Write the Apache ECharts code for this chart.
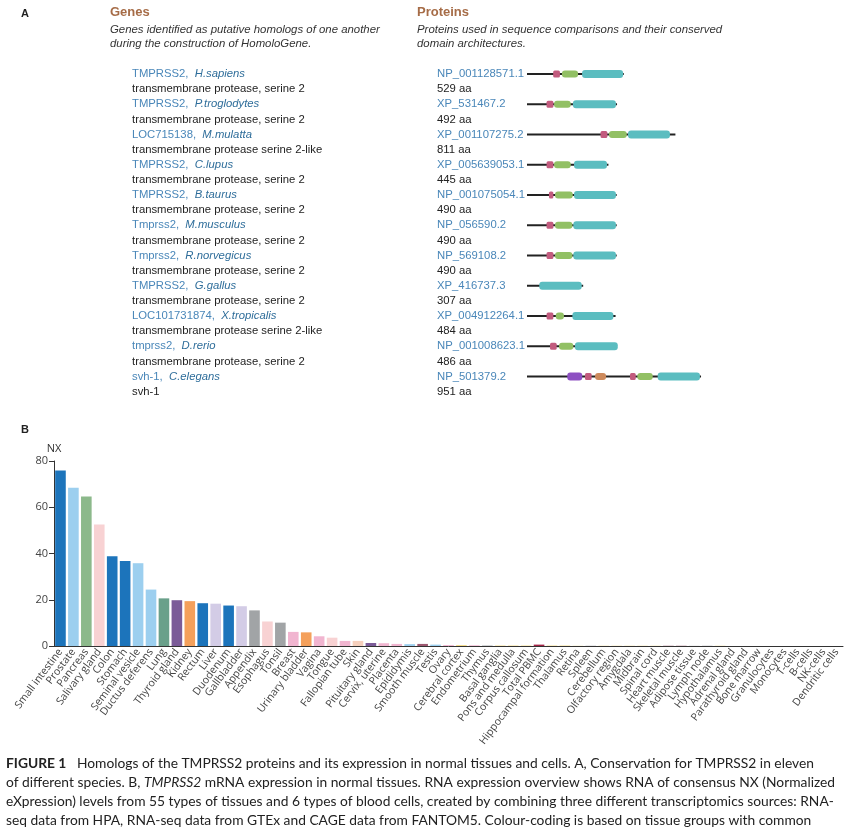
<!DOCTYPE html>
<html>
<head>
<meta charset="utf-8">
<script src="https://cdn.jsdelivr.net/npm/echarts@6/dist/echarts.min.js"></script>
<style>
  html, body { margin: 0; padding: 0; background: #fff; }
  #main { width: 849px; height: 828px; }
</style>
</head>
<body>
<div id="main"></div>
<script>
// ---- panel A: homologs ----
const geneSymbols = ['TMPRSS2', 'TMPRSS2', 'LOC715138', 'TMPRSS2', 'TMPRSS2', 'Tmprss2', 'Tmprss2', 'TMPRSS2', 'LOC101731874', 'tmprss2', 'svh-1'];
const geneSpecies = ['H.sapiens', 'P.troglodytes', 'M.mulatta', 'C.lupus', 'B.taurus', 'M.musculus', 'R.norvegicus', 'G.gallus', 'X.tropicalis', 'D.rerio', 'C.elegans'];
const geneDescriptions = [
  'transmembrane protease, serine 2', 'transmembrane protease, serine 2', 'transmembrane protease serine 2-like',
  'transmembrane protease, serine 2', 'transmembrane protease, serine 2', 'transmembrane protease, serine 2',
  'transmembrane protease, serine 2', 'transmembrane protease, serine 2', 'transmembrane protease serine 2-like',
  'transmembrane protease, serine 2', 'svh-1'
];
const proteinIds = ['NP_001128571.1', 'XP_531467.2', 'XP_001107275.2', 'XP_005639053.1', 'NP_001075054.1', 'NP_056590.2', 'NP_569108.2', 'XP_416737.3', 'XP_004912264.1', 'NP_001008623.1', 'NP_501379.2'];
const proteinLengths = [529, 492, 811, 445, 490, 490, 490, 307, 484, 486, 951];
// [domain, start aa, end aa]
const proteinDomains = [
  [['LDLa', 143, 180], ['SRCR', 191, 279], ['Trypsin', 301, 525]],
  [['LDLa', 107, 144], ['SRCR', 148, 239], ['Trypsin', 251, 486]],
  [['LDLa', 402, 439], ['SRCR', 448, 545], ['Trypsin', 552, 781]],
  [['LDLa', 107, 144], ['SRCR', 148, 239], ['Trypsin', 257, 437]],
  [['LDLa', 120, 144], ['SRCR', 153, 250], ['Trypsin', 257, 486]],
  [['LDLa', 107, 144], ['SRCR', 153, 248], ['Trypsin', 253, 486]],
  [['LDLa', 107, 144], ['SRCR', 153, 248], ['Trypsin', 253, 486]],
  [['Trypsin', 67, 299]],
  [['LDLa', 107, 144], ['SRCR', 157, 202], ['Trypsin', 248, 472]],
  [['LDLa', 126, 162], ['SRCR', 175, 253], ['Trypsin', 262, 496]],
  [['CUB', 220, 302], ['LDLa', 317, 353], ['SEA', 372, 432], ['LDLa', 563, 594], ['SRCR', 603, 687], ['Trypsin', 714, 945]]
];

// ---- panel B: RNA expression ----
const tissues = ['Small intestine', 'Prostate', 'Pancreas', 'Salivary gland', 'Colon', 'Stomach', 'Seminal vesicle', 'Ductus deferens', 'Lung', 'Thyroid gland',
  'Kidney', 'Rectum', 'Liver', 'Duodenum', 'Gallbladder', 'Appendix', 'Esophagus', 'Tonsil', 'Breast', 'Urinary bladder',
  'Vagina', 'Tongue', 'Fallopian tube', 'Skin', 'Pituitary gland', 'Cervix, uterine', 'Placenta', 'Epididymis', 'Smooth muscle', 'Testis',
  'Ovary', 'Cerebral cortex', 'Endometrium', 'Thymus', 'Basal ganglia', 'Pons and medulla', 'Corpus callosum', 'Total PBMC', 'Hippocampal formation', 'Thalamus',
  'Retina', 'Spleen', 'Cerebellum', 'Olfactory region', 'Amygdala', 'Midbrain', 'Spinal cord', 'Heart muscle', 'Skeletal muscle', 'Adipose tissue',
  'Lymph node', 'Hypothalamus', 'Adrenal gland', 'Parathyroid gland', 'Bone marrow', 'Granulocytes', 'Monocytes', 'T-cells', 'B-cells', 'NK-cells', 'Dendritic cells'];
const nxValues = [75.9, 68.4, 64.7, 52.5, 38.8, 36.8, 35.8, 24.4, 20.6, 19.8,
  19.4, 18.5, 18.3, 17.5, 17.2, 15.4, 10.6, 10.1, 6.1, 5.9,
  4.2, 3.6, 2.2, 2.2, 1.3, 1.2, 0.9, 0.8, 0.9, 0.6,
  0.4, 0.4, 0.3, 0.2, 0.2, 0.2, 0.2, 0.6, 0.2, 0.2,
  0.1, 0.1, 0.1, 0.1, 0.1, 0.1, 0.1, 0.1, 0.1, 0.1,
  0.1, 0.1, 0, 0, 0, 0, 0, 0, 0, 0, 0];
const tissueGroups = ['gi', 'male', 'pancreas', 'oral', 'gi', 'gi', 'male', 'male', 'lung', 'endocrine',
  'kidney', 'gi', 'liver', 'gi', 'liver', 'lymphoid', 'oral', 'lymphoid', 'female', 'kidney',
  'female', 'oral', 'female', 'skin', 'endocrine', 'female', 'female', 'male', 'muscle', 'male',
  'female', 'brain', 'female', 'lymphoid', 'brain', 'brain', 'brain', 'blood', 'brain', 'brain',
  'eye', 'lymphoid', 'brain', 'brain', 'brain', 'brain', 'brain', 'muscle', 'muscle', 'adipose',
  'lymphoid', 'brain', 'endocrine', 'endocrine', 'lymphoid', 'blood', 'blood', 'blood', 'blood', 'blood', 'blood'];
const yTicks = [0, 20, 40, 60, 80];

const captionLines = [
  '{b|FIGURE 1}   Homologs of the TMPRSS2 proteins and its expression in normal tissues and cells. A, Conservation for TMPRSS2 in eleven',
  'of different species. B, {i|TMPRSS2} mRNA expression in normal tissues. RNA expression overview shows RNA of consensus NX (Normalized',
  'eXpression) levels from 55 types of tissues and 6 types of blood cells, created by combining three different transcriptomics sources: RNA-',
  'seq data from HPA, RNA-seq data from GTEx and CAGE data from FANTOM5. Colour-coding is based on tissue groups with common'
];

// styles
const groupColors = {
  gi: '#1c74bb', male: '#9ccfef', pancreas: '#8cb98b', oral: '#f8d2d3', lung: '#69a08a',
  endocrine: '#7b5b98', kidney: '#f4a05b', liver: '#d3cce6', lymphoid: '#a1a4a6', female: '#f1b5d0',
  skin: '#f6d0bd', muscle: '#9d5870', brain: '#f6dc86', blood: '#a42446', eye: '#f2e2a0', adipose: '#c9c9c9'
};
const domainColors = { LDLa: '#c25b7e', SRCR: '#92c064', Trypsin: '#5bbdc0', CUB: '#8d50c2', SEA: '#cd8a5c' };
const domainHeights = { LDLa: 7, SRCR: 7, Trypsin: 8, CUB: 8, SEA: 7 };
const domainKinds = Object.keys(domainColors);

const sansA = '"Liberation Sans", Arial, sans-serif';
const rowTop = 74, lineStep = 15.13;
const geneX = 132, protX = 437;
const listSize = 11.3;

const graphics = [];
function txt(x, y, text, extra) {
  graphics.push({ type: 'text', x: x, y: y, silent: true,
    style: Object.assign({ text: text, fontFamily: sansA, fontSize: listSize, fill: '#222', verticalAlign: 'middle' }, extra || {}) });
}
txt(21, 14, 'A', { fontWeight: 'bold', fontSize: 11 });
txt(110, 12, 'Genes', { fontWeight: 'bold', fontSize: 13, fill: '#a66c47' });
txt(110, 29.5, 'Genes identified as putative homologs of one another', { fontStyle: 'italic', fontSize: 11.4, fill: '#333' });
txt(110, 44, 'during the construction of HomoloGene.', { fontStyle: 'italic', fontSize: 11.4, fill: '#333' });
txt(417, 12, 'Proteins', { fontWeight: 'bold', fontSize: 13, fill: '#a66c47' });
txt(417, 29.5, 'Proteins used in sequence comparisons and their conserved', { fontStyle: 'italic', fontSize: 11.4, fill: '#333' });
txt(417, 44, 'domain architectures.', { fontStyle: 'italic', fontSize: 11.4, fill: '#333' });

geneSymbols.forEach(function (g, i) {
  const y1 = rowTop + lineStep * 2 * i, y2 = y1 + lineStep;
  txt(geneX, y1, '{n|' + g + ',}  {s|' + geneSpecies[i] + '}', {
    rich: {
      n: { fontFamily: sansA, fontSize: listSize, fill: '#4a87b9' },
      s: { fontFamily: sansA, fontSize: listSize, fill: '#2e6d9a', fontStyle: 'italic' }
    }
  });
  txt(geneX, y2, geneDescriptions[i]);
  txt(protX, y1, proteinIds[i], { fill: '#4a87b9' });
  txt(protX, y2, proteinLengths[i] + ' aa');
});

txt(21, 430, 'B', { fontWeight: 'bold', fontSize: 11 });

const capFont = 'Lato, "Open Sans", sans-serif';
const capSize = 13.8;
captionLines.forEach(function (l, i) {
  txt(6, 764 + 19 * i, l, {
    fontFamily: capFont, fontSize: capSize, fill: '#222',
    rich: {
      b: { fontFamily: capFont, fontSize: capSize, fontWeight: 'bold', fill: '#222' },
      i: { fontFamily: capFont, fontSize: capSize, fontStyle: 'italic', fill: '#222' }
    }
  });
});

const backboneData = proteinLengths.map(function (len, i) { return [i, len]; });
const domainData = [];
proteinDomains.forEach(function (doms, i) {
  doms.forEach(function (d) { domainData.push([i, d[1], d[2], domainKinds.indexOf(d[0])]); });
});

const chart = echarts.init(document.getElementById('main'));
const option = {
  backgroundColor: '#fff',
  animation: false,
  graphic: graphics,
  grid: [
    { left: 54, right: 6, top: 461, height: 185 },
    { left: 527, width: 183, top: rowTop - lineStep, height: lineStep * 2 * 11 }
  ],
  xAxis: [
    {
      type: 'category', gridIndex: 0, data: tissues,
      axisLine: { lineStyle: { color: '#333', width: 1 } },
      axisTick: { alignWithLabel: true, length: 5, lineStyle: { color: '#333' } },
      axisLabel: { interval: 0, rotate: 53, fontSize: 10.5, color: '#444', margin: 4, fontFamily: '"Open Sans", sans-serif' }
    },
    { type: 'value', gridIndex: 1, min: 0, max: 1000, show: false }
  ],
  yAxis: [
    {
      type: 'value', gridIndex: 0, min: yTicks[0], max: yTicks[yTicks.length - 1], interval: 20,
      name: 'NX', nameLocation: 'end', nameGap: 7,
      nameTextStyle: { color: '#333', fontSize: 11, fontFamily: '"Open Sans", sans-serif' },
      axisLine: { show: true, lineStyle: { color: '#333' } },
      axisTick: { show: true, length: 5, lineStyle: { color: '#333' } },
      splitLine: { show: false },
      axisLabel: { fontSize: 11, color: '#444', margin: 6, fontFamily: '"Open Sans", sans-serif' }
    },
    { type: 'category', gridIndex: 1, data: proteinIds, inverse: true, show: false }
  ],
  series: [
    {
      type: 'bar', xAxisIndex: 0, yAxisIndex: 0, barCategoryGap: '18%',
      data: nxValues.map(function (v, i) {
        return { value: v, itemStyle: { color: groupColors[tissueGroups[i]] } };
      })
    },
    {
      type: 'custom', xAxisIndex: 1, yAxisIndex: 1, data: backboneData,
      encode: { x: 1, y: 0 },
      renderItem: function (params, api) {
        const row = api.value(0);
        const p0 = api.coord([0, row]);
        const p1 = api.coord([api.value(1), row]);
        return {
          type: 'line',
          shape: { x1: p0[0], y1: p0[1], x2: p1[0], y2: p1[1] },
          style: { stroke: '#222', lineWidth: 2 }
        };
      }
    },
    {
      type: 'custom', xAxisIndex: 1, yAxisIndex: 1, data: domainData,
      encode: { x: [1, 2], y: 0 },
      renderItem: function (params, api) {
        const row = api.value(0);
        const kind = domainKinds[api.value(3)];
        const a = api.coord([api.value(1), row]);
        const b = api.coord([api.value(2), row]);
        const h = domainHeights[kind];
        return {
          type: 'rect',
          shape: { x: a[0], y: a[1] - h / 2, width: b[0] - a[0], height: h, r: kind === 'LDLa' ? 1.5 : 3 },
          style: { fill: domainColors[kind] }
        };
      }
    }
  ]
};
chart.setOption(option);
</script>
</body>
</html>
